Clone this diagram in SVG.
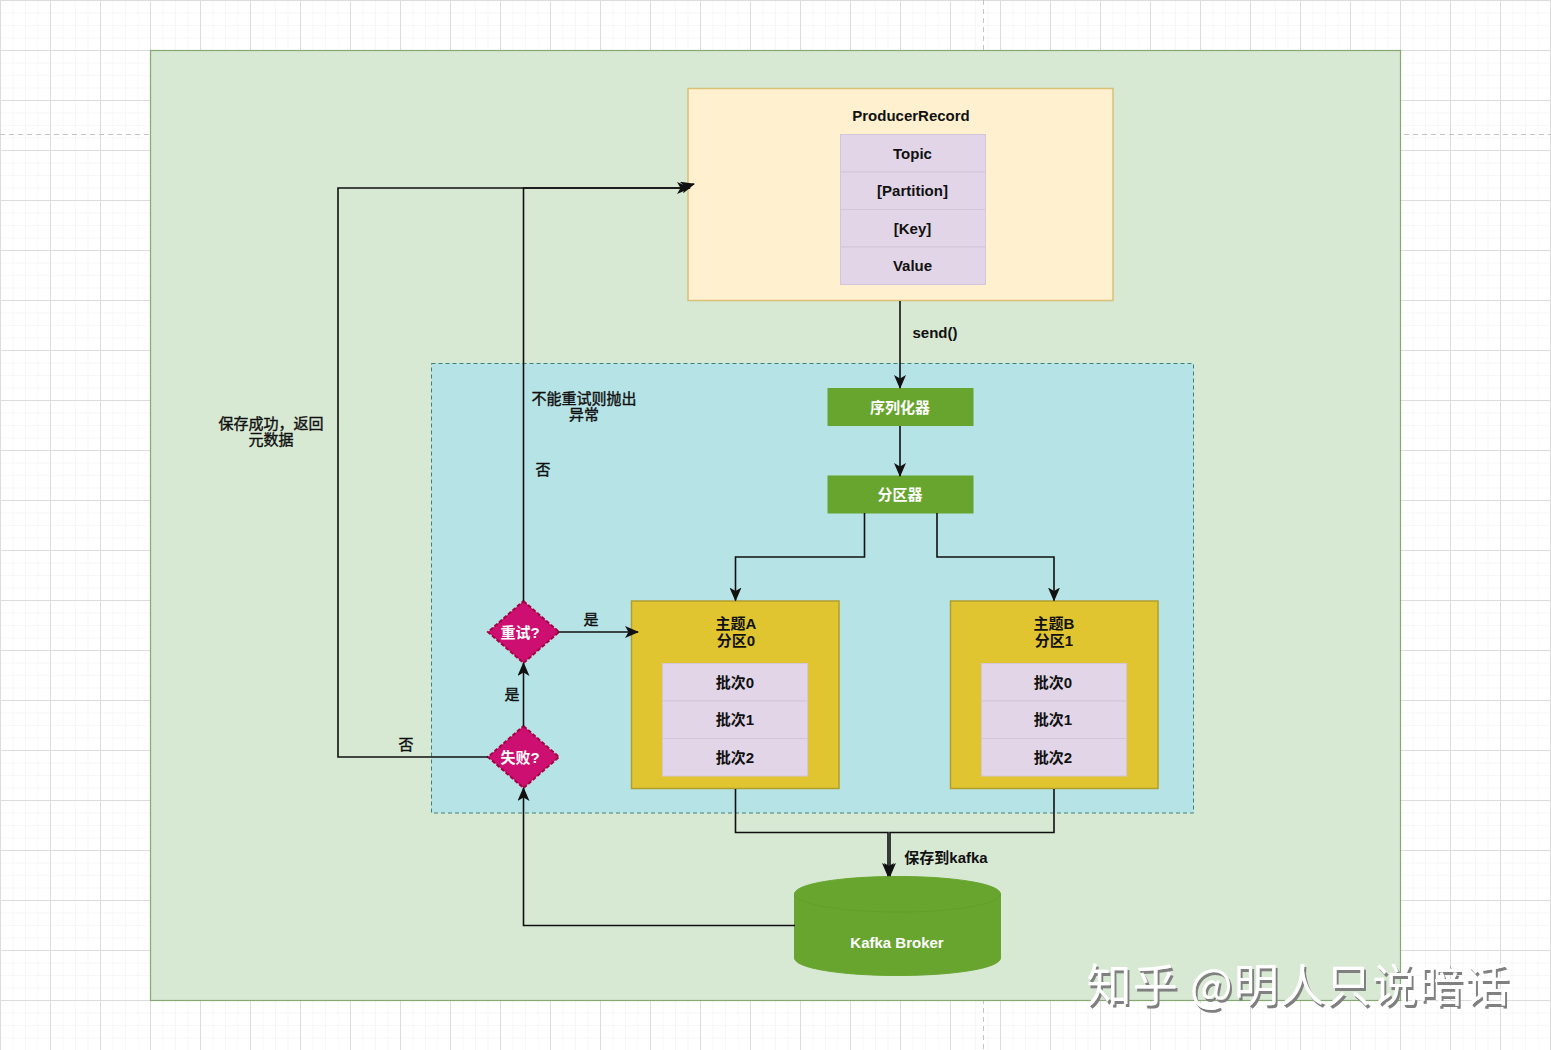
<svg xmlns="http://www.w3.org/2000/svg" width="1551" height="1050" viewBox="0 0 1551 1050">
<style>
text{font-family:"Liberation Sans","Noto Sans CJK SC",sans-serif;font-size:15px;font-weight:bold;fill:#111;text-anchor:middle}
.w{fill:#fff}
.l{font-weight:normal;stroke:#111;stroke-width:.4px}
.cell{fill:#e1d5e7;stroke:#d3c6da;stroke-width:1}
.group{fill:#e0c530;stroke:#b09e2c;stroke-width:1.5}
.green{fill:#67a52e;stroke:#67a52e}
.dia{fill:#cc0f70;stroke:#a50040;stroke-width:2;stroke-dasharray:4 2}
.c{fill:none;stroke:#111;stroke-width:1.6}
</style>
<defs>
<pattern id="minor" width="12.5" height="12.5" patternUnits="userSpaceOnUse"><path d="M0 0H12.5M0 0V12.5" fill="none" stroke="#f0f0f0" stroke-width="1"/></pattern>
<pattern id="major" width="50" height="50" patternUnits="userSpaceOnUse"><path d="M.5 .5H50M.5 .5V50" fill="none" stroke="#dcdcdc" stroke-width="1"/></pattern>
<marker id="a" viewBox="0 0 14 12" refX="13" refY="6" markerWidth="14" markerHeight="12" markerUnits="userSpaceOnUse" orient="auto"><path d="M0 0L14 6L0 12L3.500 6Z" fill="#111"/></marker>
<filter id="sh" x="-5%" y="-10%" width="110%" height="125%"><feDropShadow dx="2" dy="3" stdDeviation="0.6" flood-color="#808080"/></filter>
</defs>
<g id="background">
<rect width="1551" height="1050" fill="#fff"/>
<rect width="1551" height="1050" fill="url(#minor)"/>
<rect width="1551" height="1050" fill="url(#major)"/>
<path d="M0 134.500H1551M983.500 0V1050" fill="none" stroke="#c4c4c4" stroke-dasharray="5 4"/>
</g>
<g id="outer"><rect x="150.500" y="50.500" width="1250" height="950" fill="#d7e8d3" stroke="#86a873" stroke-width="1.200"/></g>
<g id="producer-box"><rect x="688" y="88.500" width="425" height="212" fill="#fff1cf" stroke="#d8c078" stroke-width="1.500"/></g>
<g id="producer-title"><text x="911" y="120.500">ProducerRecord</text></g>
<g id="record">
<rect class="cell" x="840.500" y="134.500" width="145" height="37.500"/>
<rect class="cell" x="840.500" y="172" width="145" height="37.500"/>
<rect class="cell" x="840.500" y="209.500" width="145" height="37.500"/>
<rect class="cell" x="840.500" y="247" width="145" height="37.500"/>
<text x="912.500" y="158.500">Topic</text>
<text x="912.500" y="196">[Partition]</text>
<text x="912.500" y="233.500">[Key]</text>
<text x="912.500" y="271">Value</text>
</g>
<g id="client"><rect x="431.500" y="363.500" width="762" height="449.500" fill="#b6e3e5" stroke="#3f7f80" stroke-dasharray="4 3"/></g>
<g id="serializer"><rect class="green" x="828" y="388.500" width="145" height="37"/><text class="w" x="900" y="412.500">序列化器</text></g>
<g id="partitioner"><rect class="green" x="828" y="476" width="145" height="37"/><text class="w" x="900" y="499.500">分区器</text></g>
<g id="topic-a">
<rect class="group" x="631.500" y="601" width="207.500" height="187.500"/>
<text x="736" y="628.500">主题A</text><text x="736" y="645.500">分区0</text>
<rect class="cell" x="662.500" y="663.500" width="145" height="37.500"/>
<rect class="cell" x="662.500" y="701" width="145" height="37.500"/>
<rect class="cell" x="662.500" y="738.500" width="145" height="37.500"/>
<text x="735" y="687.500">批次0</text><text x="735" y="724.500">批次1</text><text x="735" y="762.500">批次2</text>
</g>
<g id="topic-b">
<rect class="group" x="950.500" y="601" width="207.500" height="187.500"/>
<text x="1054" y="628.500">主题B</text><text x="1054" y="645.500">分区1</text>
<rect class="cell" x="981.500" y="663.500" width="145" height="37.500"/>
<rect class="cell" x="981.500" y="701" width="145" height="37.500"/>
<rect class="cell" x="981.500" y="738.500" width="145" height="37.500"/>
<text x="1053" y="687.500">批次0</text><text x="1053" y="724.500">批次1</text><text x="1053" y="762.500">批次2</text>
</g>
<g id="retry"><path class="dia" d="M523.500 601L559 632L523.500 663L488 632Z"/><text class="w" x="520" y="637.500">重试?</text></g>
<g id="failed"><path class="dia" d="M523.500 726L559 757L523.500 788L488 757Z"/><text class="w" x="520" y="762.500">失败?</text></g>
<g id="broker">
<path class="green" d="M794.500 894C794.500 884 840 876.500 897.500 876.500S1000.500 884 1000.500 894V958C1000.500 968 955 975.500 897.500 975.500S794.500 968 794.500 958Z"/>
<path d="M794.500 894C794.500 904 840 912 897.500 912S1000.500 904 1000.500 894" fill="none" stroke="#62a02c"/>
<text class="w" x="897" y="947.500">Kafka Broker</text>
</g>
<g id="connectors">
<path class="c" d="M900 301V388" marker-end="url(#a)"/>
<path class="c" d="M900 426V476" marker-end="url(#a)"/>
<path class="c" d="M864.500 513V557H735.500V600.500" marker-end="url(#a)"/>
<path class="c" d="M937 513V557H1054V600.500" marker-end="url(#a)"/>
<path class="c" d="M735.500 789V832.500H888V876" marker-end="url(#a)"/>
<path class="c" d="M1054 789V832.500H890V876" marker-end="url(#a)"/>
<path class="c" d="M795 925.500H523.500V788" marker-end="url(#a)"/>
<path class="c" d="M523.500 726V663" marker-end="url(#a)"/>
<path class="c" d="M558 632H638" marker-end="url(#a)"/>
<path class="c" d="M523.500 601V188H690" marker-end="url(#a)"/>
<path class="c" d="M488 757H338V188H680L694 184" marker-end="url(#a)"/>
</g>
<g id="labels">
<text x="935" y="338">send()</text>
<text x="946" y="862.500">保存到kafka</text>
<text class="l" x="591" y="624.500">是</text>
<text class="l" x="512" y="699.500">是</text>
<text class="l" x="406" y="749.500">否</text>
<text class="l" x="543" y="474.500">否</text>
<text class="l" x="584" y="403.500">不能重试则抛出</text>
<text class="l" x="584" y="420">异常</text>
<text class="l" x="271" y="428.500">保存成功，返回</text>
<text class="l" x="271" y="445">元数据</text>
</g>
<g id="watermark"><text x="1298" y="1002" filter="url(#sh)" style="font-family:'Noto Sans CJK SC',sans-serif;font-size:45px;font-weight:normal;fill:#fff" textLength="423">知乎 @明人只说暗话</text></g>
</svg>
